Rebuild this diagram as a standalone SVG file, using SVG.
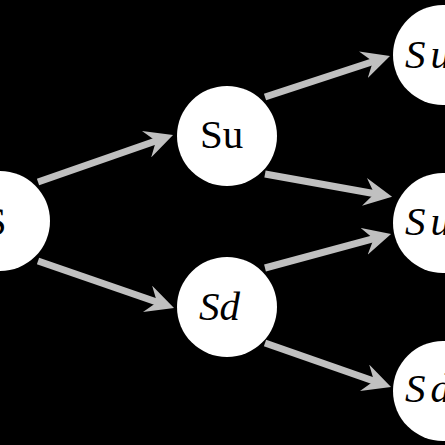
<svg xmlns="http://www.w3.org/2000/svg" width="445" height="445" viewBox="0 0 445 445">
<style>
.node{fill:#ffffff}
.lbl{font-family:"Liberation Serif","Times New Roman",serif;font-size:41px;fill:#000000}
.it{font-style:italic}
.cut{letter-spacing:5px}
.edge{stroke:#c0c0c0;stroke-width:7;fill:none;marker-end:url(#ah)}
</style>
<defs>
<marker id="ah" markerUnits="userSpaceOnUse" viewBox="0 0 28 28" markerWidth="28" markerHeight="28" refX="12" refY="14" orient="auto">
<path d="M28,14 L0,0 L10,14 L0,28 Z" fill="#c0c0c0"/>
</marker>
</defs>
<rect width="445" height="445" fill="#000000"/>
<g id="connectors">
<line class="edge" x1="38" y1="182" x2="157.9" y2="140.3"/>
<line class="edge" x1="38" y1="261" x2="158.9" y2="302.8"/>
<line class="edge" x1="265" y1="97" x2="374.8" y2="61"/>
<line class="edge" x1="265" y1="174" x2="376.3" y2="194"/>
<line class="edge" x1="265" y1="268" x2="375.6" y2="238.2"/>
<line class="edge" x1="265" y1="343" x2="375.9" y2="381.7"/>
</g>
<g id="node-S">
<circle class="node" cx="0" cy="221" r="50"/>
<text class="lbl" x="6.5" y="235" text-anchor="end">S</text>
</g>
<g id="node-Su">
<circle class="node" cx="227" cy="136" r="50"/>
<text class="lbl" x="200" y="148">Su</text>
</g>
<g id="node-Sd">
<circle class="node" cx="227" cy="307" r="50"/>
<text class="lbl it" x="199" y="320">Sd</text>
</g>
<g id="node-Suu">
<circle class="node" cx="443" cy="55" r="50"/>
<text class="lbl it cut" x="405" y="68">Su</text>
</g>
<g id="node-Sud">
<circle class="node" cx="443" cy="223" r="50"/>
<text class="lbl it cut" x="405" y="235">Su</text>
</g>
<g id="node-Sdd">
<circle class="node" cx="443" cy="391" r="50"/>
<text class="lbl it cut" x="405" y="402">Sd</text>
</g>
</svg>
